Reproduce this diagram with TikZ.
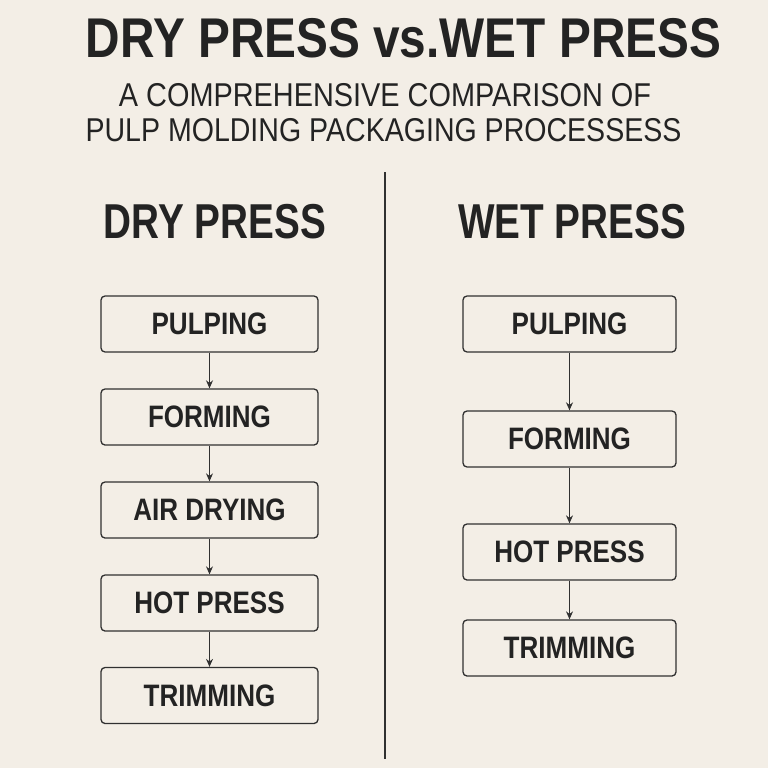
\documentclass[tikz,border=0pt]{standalone}
\usepackage{fontspec}
\setmainfont{Liberation Sans}
\usepackage{graphicx}
\usetikzlibrary{arrows.meta}
\definecolor{bg}{HTML}{F3EEE6}
\definecolor{ink}{HTML}{232323}
\definecolor{edge}{HTML}{303030}
\tikzset{
  txt/.style={anchor=base, inner sep=0pt, text=ink},
  stepbox/.style={draw=edge, line width=1.3pt, rounded corners=4pt, fill=bg,
    minimum height=56pt, inner sep=0pt, text=ink,
    font=\fontsize{31}{32}\selectfont\bfseries},
  drybox/.style={stepbox, minimum width=217pt},
  wetbox/.style={stepbox, minimum width=213pt},
  flow/.style={draw=edge, line width=1.2pt, -{Stealth[length=8pt,width=7pt]}},
  divider/.style={draw=edge, line width=1.6pt}
}
\newcommand{\cx}[2]{\scalebox{#1}[1]{#2}}
\begin{document}
\begin{tikzpicture}[x=1pt,y=-1pt]
\fill[bg] (0,0) rectangle (768,768);
\useasboundingbox (0,0) rectangle (768,768);
% titles
\node[txt, font=\fontsize{56}{60}\selectfont\bfseries] (title) at (403.5,57) {\cx{0.853}{DRY PRESS vs.WET PRESS}};
\node[txt, font=\fontsize{33}{35}\selectfont] (sub1) at (385,106) {\cx{0.875}{A COMPREHENSIVE COMPARISON OF}};
\node[txt, font=\fontsize{33}{35}\selectfont] (sub2) at (383.5,141) {\cx{0.865}{PULP MOLDING PACKAGING PROCESSESS}};
\node[txt, font=\fontsize{49}{52}\selectfont\bfseries] (dryhead) at (215,238) {\cx{0.79}{DRY PRESS}};
\node[txt, font=\fontsize{49}{52}\selectfont\bfseries] (wethead) at (572,238) {\cx{0.79}{WET PRESS}};
% divider
\coordinate (dtop) at (385,172);
\coordinate (dbot) at (385,759);
\draw[divider] (dtop) -- (dbot);
% dry column
\node[drybox] (d1) at (209.5,324) {\cx{0.84}{PULPING}};
\node[drybox] (d2) at (209.5,417) {\cx{0.84}{FORMING}};
\node[drybox] (d3) at (209.5,510) {\cx{0.84}{AIR DRYING}};
\node[drybox] (d4) at (209.5,603) {\cx{0.84}{HOT PRESS}};
\node[drybox] (d5) at (209.5,695.5) {\cx{0.84}{TRIMMING}};
\draw[flow] (d1) -- (d2);
\draw[flow] (d2) -- (d3);
\draw[flow] (d3) -- (d4);
\draw[flow] (d4) -- (d5);
% wet column
\node[wetbox] (w1) at (569.5,324) {\cx{0.84}{PULPING}};
\node[wetbox] (w2) at (569.5,439) {\cx{0.84}{FORMING}};
\node[wetbox] (w3) at (569.5,552) {\cx{0.84}{HOT PRESS}};
\node[wetbox] (w4) at (569.5,648) {\cx{0.84}{TRIMMING}};
\draw[flow] (w1) -- (w2);
\draw[flow] (w2) -- (w3);
\draw[flow] (w3) -- (w4);
\end{tikzpicture}
\end{document}
